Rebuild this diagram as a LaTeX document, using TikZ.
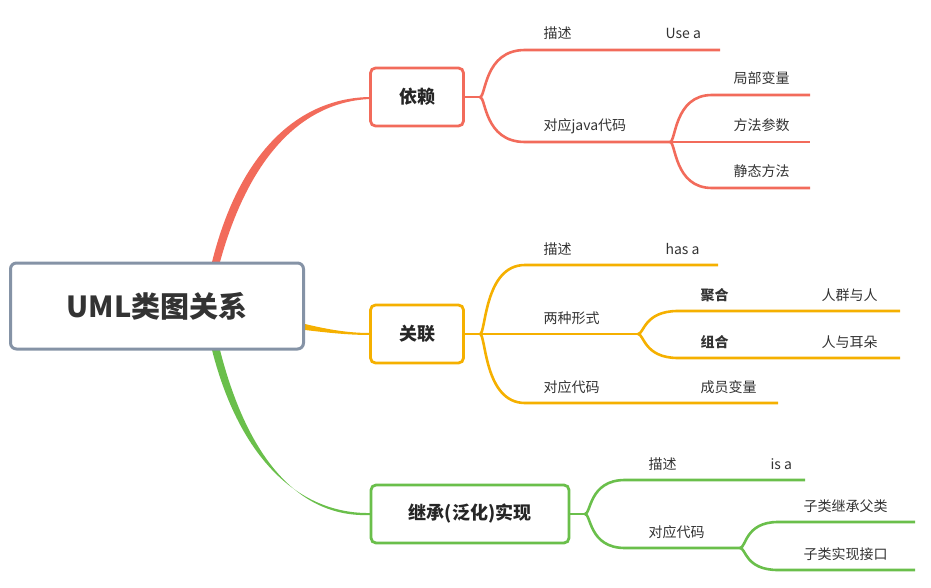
\documentclass[tikz,border=0pt]{standalone}
\usepackage{fontspec}
\setmainfont{Noto Sans CJK SC}
\begin{document}
\begin{tikzpicture}[x=1pt,y=-1pt,
  lbl/.style={anchor=base west,font=\fontsize{14}{15}\selectfont,text=black!80},
  blbl/.style={lbl,font=\fontsize{14}{15}\selectfont\bfseries},
  topbox/.style={draw,line width=2.8pt,rounded corners=5pt,fill=white,font=\fontsize{18}{19}\selectfont\bfseries,text=black!85,minimum height=58pt},
  br/.style={line width=2.6pt}]
\definecolor{cr}{HTML}{F26B5B}\definecolor{co}{HTML}{F5B000}\definecolor{cg}{HTML}{6ABF4B}\definecolor{cgr}{HTML}{8593A6}
\useasboundingbox (0,0) rectangle (931,588);
% root curves
\fill[cr] (212,262) .. controls (240,150) and (300,98) .. (370,97) -- (370,99) .. controls (300,102) and (248,160) .. (220,262) -- cycle;
\fill[cg] (212,350) .. controls (240,460) and (300,514) .. (370,513) -- (370,515) .. controls (300,518) and (248,460) .. (220,350) -- cycle;
\fill[co] (305,324) .. controls (330,330) and (350,333) .. (370,333) -- (370,335) .. controls (350,335) and (330,333) .. (305,330) -- cycle;
\node[draw=cgr,line width=3pt,rounded corners=6pt,fill=white,minimum width=293pt,minimum height=86pt,font=\fontsize{29}{31}\selectfont\bfseries,text=black!80] (root) at (157,306) {UML类图关系};
\node[topbox,draw=cr,minimum width=93pt] (a) at (417,97) {依赖};
\node[topbox,draw=co,minimum width=93pt] (b) at (417,334) {关联};
\node[topbox,draw=cg,minimum width=198pt] (c) at (470,514) {继承(泛化)实现};
% red
\draw[br,cr] (a.east) -- (480,97) coordinate (s1);
\draw[br,cr] (s1) .. controls (486,97) and (484,50) .. (525,50) -- (720,50);
\draw[br,cr] (s1) .. controls (486,97) and (484,142) .. (525,142) -- (670,142) coordinate (s2);
\draw[br,cr] (s2) .. controls (676,142) and (674,95) .. (712,95) -- (810,95);
\draw[br,cr] (s2) -- (810,142);
\draw[br,cr] (s2) .. controls (676,142) and (674,188) .. (712,188) -- (810,188);
\node[lbl] at (540,39) {描述}; \node[lbl] at (662,39) {Use a};
\node[lbl] at (540,131) {对应java代码};
\node[lbl] at (730,84) {局部变量}; \node[lbl] at (730,131) {方法参数}; \node[lbl] at (730,177) {静态方法};
% orange
\draw[br,co] (b.east) -- (480,334) coordinate (t1);
\draw[br,co] (t1) .. controls (486,334) and (484,265) .. (525,265) -- (718,265);
\draw[br,co] (t1) -- (638,334) coordinate (t2);
\draw[br,co] (t1) .. controls (486,334) and (484,403) .. (525,403) -- (778,403);
\draw[br,co] (t2) .. controls (644,334) and (644,311) .. (678,311) -- (900,311);
\draw[br,co] (t2) .. controls (644,334) and (644,358) .. (678,358) -- (900,358);
\node[lbl] at (540,254) {描述}; \node[lbl] at (662,254) {has a};
\node[lbl] at (540,323) {两种形式};
\node[blbl] at (697,300) {聚合}; \node[lbl] at (818,300) {人群与人};
\node[blbl] at (697,347) {组合}; \node[lbl] at (818,347) {人与耳朵};
\node[lbl] at (540,392) {对应代码}; \node[lbl] at (697,392) {成员变量};
% green
\draw[br,cg] (c.east) -- (585,514) coordinate (u1);
\draw[br,cg] (u1) .. controls (591,514) and (589,480) .. (625,480) -- (805,480);
\draw[br,cg] (u1) .. controls (591,514) and (589,548) .. (625,548) -- (740,548) coordinate (u2);
\draw[br,cg] (u2) .. controls (746,548) and (745,522) .. (778,522) -- (915,522);
\draw[br,cg] (u2) .. controls (746,548) and (745,570) .. (778,570) -- (915,570);
\node[lbl] at (645,469) {描述}; \node[lbl] at (767,469) {is a};
\node[lbl] at (645,537) {对应代码};
\node[lbl] at (800,511) {子类继承父类}; \node[lbl] at (800,559) {子类实现接口};
\end{tikzpicture}
\end{document}
